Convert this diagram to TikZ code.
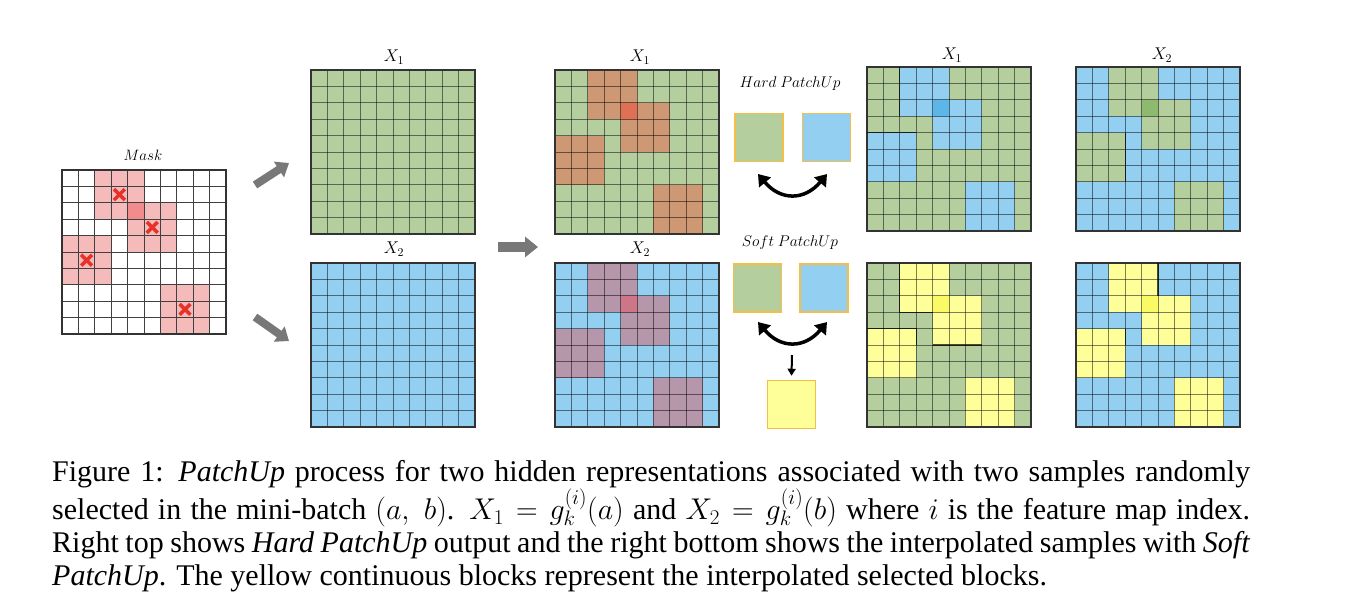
\RequirePackage{fix-cm}
\documentclass[tikz,border=0pt]{standalone}
\usepackage[no-math]{fontspec}
\setmainfont{Liberation Serif}
\usetikzlibrary{arrows.meta}
\definecolor{gfill}{RGB}{181,206,157}
\definecolor{bfill}{RGB}{146,207,241}
\definecolor{yfill}{RGB}{255,255,153}
\definecolor{yover}{RGB}{250,250,100}
\definecolor{brownb}{RGB}{206,152,116}
\definecolor{browno}{RGB}{223,112,85}
\definecolor{purpb}{RGB}{182,150,170}
\definecolor{purpo}{RGB}{206,118,135}
\definecolor{pinkb}{RGB}{245,186,186}
\definecolor{pinko}{RGB}{240,140,140}
\definecolor{bover}{RGB}{92,182,232}
\definecolor{gover}{RGB}{142,186,112}
\definecolor{arrowgray}{RGB}{120,120,120}
\definecolor{redx}{RGB}{232,50,40}
\definecolor{gold}{RGB}{245,190,70}
\tikzset{
  gl/.style={draw=black, draw opacity=0.5, line width=1pt},
  gborder/.style={draw=black!80, line width=1.3pt},
  edge/.style={draw=black, draw opacity=0.7, line width=1.2pt},
  lbl/.style={font=\fontsize{17}{20}\selectfont, inner sep=0pt},
  sq/.style={draw=gold, line width=1.5pt, minimum width=48pt, minimum height=48pt, inner sep=0pt},
  garrow/.style={draw=arrowgray, line width=8pt, -{Triangle[length=12pt,width=18pt]}},
  carrow/.style={draw=black, line width=3.5pt, {Triangle[length=11pt,width=15pt]}-{Triangle[length=11pt,width=15pt]}},
  darrow/.style={draw=black, line width=2pt, -{Triangle[length=7pt,width=8pt]}},
  xmark/.style={draw=redx, line width=3.5pt}
}
\newcommand\pgrid[6]{%
  \begin{scope}[shift={(#1,#2)},x=16.4pt,y=-16.4pt]
    \fill[#3] (0,0) rectangle (10,10);
    \foreach \i/\j in {2/0,4/2,0/4,6/7} \fill[#4] (\i,\j) rectangle ++(3,3);
    \fill[#5] (4,2) rectangle (5,3);
    \foreach \k in {1,...,9}{\draw[#6] (\k,0) -- (\k,10); \draw[#6] (0,\k) -- (10,\k);}
    \draw[gborder] (0,0) rectangle (10,10);
  \end{scope}}
\begin{document}
\begin{tikzpicture}[x=1pt,y=-1pt]
\useasboundingbox (0,0) rectangle (1365,600);
\fill[white] (0,0) rectangle (1365,600);

% Mask
\node[lbl, font=\fontsize{15}{18}\selectfont] (lmask) at (143,155) {$Mask$};
\pgrid{62}{170}{white}{pinkb}{pinko}{draw=black!75,line width=0.9pt}
\begin{scope}[shift={(62,170)},x=16.4pt,y=-16.4pt]
  \foreach \i/\j in {3/1,5/3,1/5,7/8}{
    \draw[xmark] (\i+0.17,\j+0.17) -- (\i+0.83,\j+0.83);
    \draw[xmark] (\i+0.17,\j+0.83) -- (\i+0.83,\j+0.17);}
\end{scope}

% arrows from mask
\coordinate (a1s) at (255,185); \coordinate (a1e) at (289,163);
\coordinate (a2s) at (255,317); \coordinate (a2e) at (289,341);
\draw[garrow] (a1s) -- (a1e);
\draw[garrow] (a2s) -- (a2e);

% left column
\node[lbl] (lx1a) at (394,57) {$X_1$};
\pgrid{311}{70}{gfill}{gfill}{gfill}{gl}
\node[lbl] (lx2a) at (394,249) {$X_2$};
\pgrid{311}{263}{bfill}{bfill}{bfill}{gl}

% middle arrow
\coordinate (ms) at (498,247); \coordinate (me) at (538,247);
\draw[garrow, line width=10.5pt, -{Triangle[length=13pt,width=20pt]}] (ms) -- (me);

% middle column
\node[lbl] (lx1b) at (640,57) {$X_1$};
\pgrid{555}{70}{gfill}{brownb}{browno}{gl}
\node[lbl] (lx2b) at (640,249) {$X_2$};
\pgrid{555}{263}{bfill}{purpb}{purpo}{gl}

% Hard PatchUp
\node[lbl, font=\fontsize{15.5}{18}\selectfont] (lhard) at (790,84) {$Hard\ PatchUp$};
\node[sq, fill=gfill] (hg) at (759,137.5) {};
\node[sq, fill=bfill] (hb) at (826.5,137.5) {};
\coordinate (hl) at (758,174); \coordinate (hr) at (827,174);
\draw[carrow] (hl) to[out=-50,in=-130,looseness=1.3] (hr);

% Soft PatchUp
\node[lbl, font=\fontsize{15.5}{18}\selectfont] (lsoft) at (790,243) {$Soft\ PatchUp$};
\node[sq, fill=gfill] (sg) at (757.5,288) {};
\node[sq, fill=bfill] (sb) at (824,288) {};
\coordinate (sl) at (758,322); \coordinate (sr) at (827,322);
\draw[carrow] (sl) to[out=-50,in=-130,looseness=1.3] (sr);
\node[sq, fill=yfill] (sy) at (791.5,404.5) {};
\coordinate (dtop) at (792,355);
\draw[darrow] (dtop) -- ([yshift=4pt]sy.north);

% right results
\node[lbl] (lx1c) at (952,55) {$X_1$};
\pgrid{867}{67}{gfill}{bfill}{bover}{gl}
\begin{scope}[shift={(867,67)},x=16.4pt,y=-16.4pt]
  \draw[edge] (2,0) -- (2,3); \draw[edge] (0,4) -- (3,4);
\end{scope}
\pgrid{867}{263}{gfill}{yfill}{yover}{gl}
\begin{scope}[shift={(867,263)},x=16.4pt,y=-16.4pt]
  \draw[edge] (2,0) -- (2,3) -- (4,3); \draw[edge] (0,4) -- (3,4) -- (3,5);
  \draw[edge] (4,5) -- (7,5);
\end{scope}
\node[lbl] (lx2c) at (1162,55) {$X_2$};
\pgrid{1076}{67}{bfill}{gfill}{gover}{gl}
\begin{scope}[shift={(1076,67)},x=16.4pt,y=-16.4pt]
  \draw[edge] (3,4) -- (3,7);
\end{scope}
\pgrid{1076}{263}{bfill}{yfill}{yover}{gl}
\begin{scope}[shift={(1076,263)},x=16.4pt,y=-16.4pt]
  \draw[edge] (5,0) -- (5,2); \draw[edge] (3,4) -- (3,5);
\end{scope}

% caption
\node[anchor=base west, text width=1198pt, align=justify, inner sep=0pt, font=\fontsize{30}{33}\selectfont] (cap) at (52,481) {Figure 1: \textit{PatchUp} process for two hidden representations associated with two samples randomly\linebreak selected in the mini-batch $(a,\ b)$. $X_1 = g_k^{(i)}(a)$ and $X_2 = g_k^{(i)}(b)$ where $i$ is the feature map index.\linebreak Right top shows \textit{Hard PatchUp} output and the right bottom shows the interpolated samples with \textit{Soft}\linebreak \textit{PatchUp}. The yellow continuous blocks represent the interpolated selected blocks.};
\end{tikzpicture}
\end{document}
